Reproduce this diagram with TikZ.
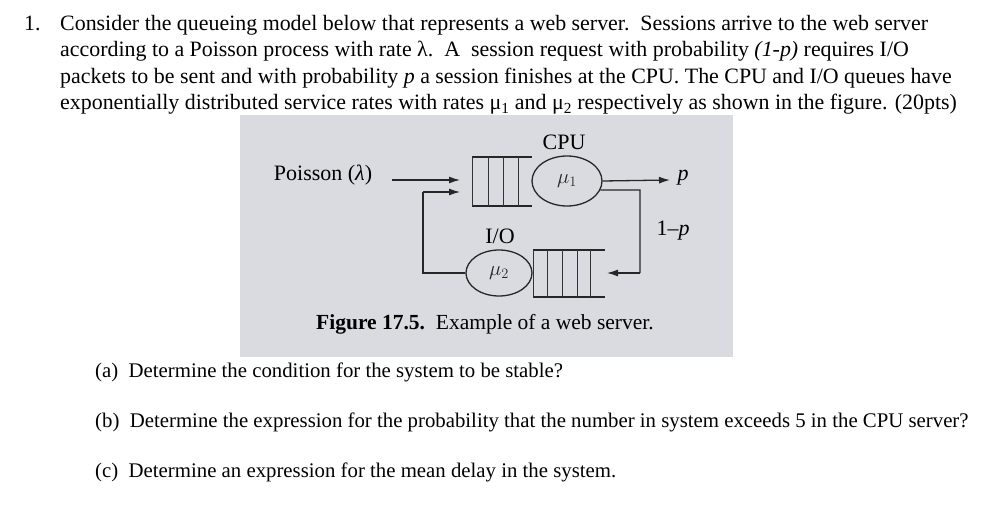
\documentclass[tikz,border=0pt]{standalone}
\usepackage{fontspec}
\setmainfont{Liberation Serif}
\usetikzlibrary{arrows.meta,shapes.geometric}
\definecolor{photo}{HTML}{D9DBE0}
\begin{document}
\begin{tikzpicture}[x=1pt,y=-1pt,
  txt/.style={anchor=base west,inner sep=0pt,font=\fontsize{21.9}{24}\selectfont},
  qtxt/.style={anchor=base west,inner sep=0pt,font=\fontsize{20.8}{24}\selectfont},
  fig/.style={inner sep=0pt,font=\fontsize{22}{24}\selectfont},
  ln/.style={line width=1.3pt,black!85},
  arr/.style={ln,-{Latex[length=11pt,width=7pt]}},
  qline/.style={line width=0.9pt,black!80}]
\useasboundingbox (0,0) rectangle (996,508);
\fill[white] (0,0) rectangle (996,508);
\node[txt] (n1) at (24,31) {1.};
\node[txt] (l1) at (60,31) {Consider the queueing model below that represents a web server.\ \ Sessions arrive to the web server};
\node[txt] (l2) at (60,57) {according to a Poisson process with rate λ.\ \ A\ \ session request with probability \textit{(1-p)} requires I/O};
\node[txt] (l3) at (60,84) {packets to be sent and with probability \textit{p} a session finishes at the CPU. The CPU and I/O queues have};
\node[txt] (l4) at (60,110) {exponentially distributed service rates with rates μ\textsubscript{1} and μ\textsubscript{2} respectively as shown in the figure. (20pts)};
\fill[photo] (240,115) rectangle (733,357);
% CPU queue
\draw[ln] (472,157) -- (532,157) (472,206) -- (532,206);
\foreach \x in {472,488,503,518} \draw[qline] (\x,157) -- (\x,206);
\node[draw,ln,ellipse,minimum width=70pt,minimum height=50pt,inner sep=0pt,font=\fontsize{20}{22}\selectfont] (c1) at (567,181) {$\mu_1$};
% IO queue
\draw[ln] (533,250) -- (605,250) (533,297) -- (605,297);
\foreach \x in {547,562,577,590} \draw[qline] (\x,250) -- (\x,297);
\draw[qline] (533,250) -- (533,297);
\node[draw,ln,ellipse,minimum width=66pt,minimum height=46pt,inner sep=0pt,font=\fontsize{20}{22}\selectfont] (c2) at (499,273) {$\mu_2$};
\node[fig] (pois) at (323,175) {Poisson (\textit{λ})};
\coordinate (qin1) at (460,180);
\coordinate (qin2) at (460,192);
\draw[arr] (392,180) -- (qin1);
\draw[ln] (c2.west) -| (423,192);
\draw[arr] (423,192) -- (qin2);
\node[fig,font=\fontsize{22}{24}\selectfont\itshape] (p) at (683,178) {p};
\draw[arr] (c1.east) -- (670,180);
\coordinate (ret) at (640,190);
\draw[ln] (c1.-15) -- (ret) -- (640,273);
\draw[arr] (640,273) -- (607,273);
\node[fig] (cpu) at (564,142) {CPU};
\node[fig] (io) at (500,236) {I/O};
\node[fig] (onep) at (673,231) {1\textit{--p}};
\node[fig,font=\fontsize{21.5}{24}\selectfont] (cap) at (485,324) {\textbf{Figure 17.5.}\ \ Example of a web server.};
\node[qtxt] (qa) at (95,377) {(a)\ \ Determine the condition for the system to be stable?};
\node[qtxt] (qb) at (95,427) {(b)\ \ Determine the expression for the probability that the number in system exceeds 5 in the CPU server?};
\node[qtxt] (qc) at (95,477) {(c)\ \ Determine an expression for the mean delay in the system.};
\end{tikzpicture}
\end{document}
